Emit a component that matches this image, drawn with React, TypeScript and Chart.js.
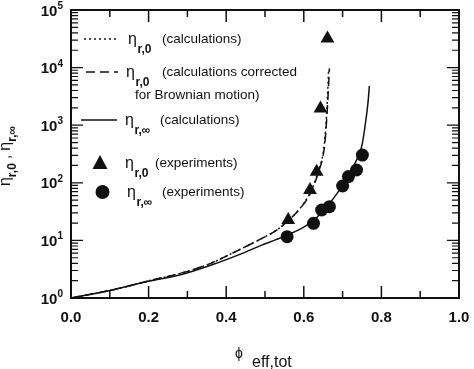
import React, { useEffect, useRef } from "react";
import { Chart, registerables } from "chart.js";

Chart.register(...registerables);

// ---------- data ----------
const xTickValues = [0, 0.2, 0.4, 0.6, 0.8, 1.0];
const xTickLabels = ["0.0", "0.2", "0.4", "0.6", "0.8", "1.0"];
const xMinorTickValues = [0.1, 0.3, 0.5, 0.7, 0.9];
const yDecadeValues = [1, 10, 100, 1000, 10000, 100000];
const yDecadeExponents = ["0", "1", "2", "3", "4", "5"];
const yMinorMultipliers = [2, 3, 4, 5, 6, 7, 8, 9];

// eta_r,inf (calculations) - solid
const calcInfX = [0, 0.1, 0.2, 0.28, 0.36, 0.44, 0.49, 0.53, 0.56, 0.6, 0.625, 0.65, 0.675, 0.7, 0.72, 0.74, 0.75, 0.76, 0.766, 0.769];
const calcInfY = [1, 1.35, 1.95, 2.5, 3.7, 5.9, 8.2, 10.4, 12.6, 17, 22, 33, 52, 90, 155, 285, 450, 1230, 2700, 4800];

// eta_r,0 (calculations corrected for Brownian motion) - dashed
const calcBrownX = [0, 0.1, 0.2, 0.3, 0.36, 0.436, 0.487, 0.53, 0.56, 0.58, 0.6, 0.62, 0.64, 0.65, 0.655, 0.661, 0.666];
const calcBrownY = [1, 1.35, 1.98, 2.9, 4.0, 7.0, 10.4, 15.1, 22, 30, 43, 72, 170, 300, 550, 2100, 9700];

// eta_r,0 (calculations) - dotted
const calc0X = [0, 0.1, 0.2, 0.3, 0.36, 0.436, 0.487, 0.53, 0.56, 0.58, 0.6, 0.62, 0.64, 0.65, 0.655, 0.66, 0.664];
const calc0Y = [1, 1.35, 1.98, 2.9, 4.0, 7.0, 10.4, 15.1, 22, 30, 44, 75, 180, 330, 650, 2200, 9500];

// eta_r,0 (experiments) - triangles
const exp0X = [0.56, 0.616, 0.633, 0.643, 0.661];
const exp0Y = [22.6, 75, 156, 1950, 32000];

// eta_r,inf (experiments) - circles
const expInfX = [0.557, 0.625, 0.646, 0.666, 0.7, 0.715, 0.736, 0.751];
const expInfY = [11.6, 19.8, 33.7, 38.5, 88, 128, 167, 303];

const toPts = (xs: number[], ys: number[]) => xs.map((x, i) => ({ x, y: ys[i] }));

const FONT = "'Liberation Sans', Arial, Helvetica, sans-serif";
const INK = "#111";

type Part = { t: string; font: string; dy: number };
function rich(ctx: CanvasRenderingContext2D, x: number, y: number, parts: Part[]) {
  let cx = x;
  for (const p of parts) {
    ctx.font = p.font;
    ctx.fillText(p.t, cx, y + p.dy);
    cx += ctx.measureText(p.t).width;
  }
  return cx;
}
function richWidth(ctx: CanvasRenderingContext2D, parts: Part[]) {
  let w = 0;
  for (const p of parts) {
    ctx.font = p.font;
    w += ctx.measureText(p.t).width;
  }
  return w;
}

const decorPlugin = {
  id: "decor",
  afterDraw(chart: any) {
    const ctx: CanvasRenderingContext2D = chart.ctx;
    const { left, right, top, bottom } = chart.chartArea;
    const xs = chart.scales.x;
    const ys = chart.scales.y;
    ctx.save();
    ctx.strokeStyle = INK;
    ctx.fillStyle = INK;
    ctx.setLineDash([]);

    // frame
    ctx.lineWidth = 2;
    ctx.strokeRect(left, top, right - left, bottom - top);

    // x ticks (bottom & top, inward)
    ctx.lineWidth = 1.5;
    const vt = (px: number, len: number) => {
      ctx.beginPath();
      ctx.moveTo(px, bottom);
      ctx.lineTo(px, bottom - len);
      ctx.moveTo(px, top);
      ctx.lineTo(px, top + len);
      ctx.stroke();
    };
    xTickValues.forEach((v) => vt(xs.getPixelForValue(v), 12));
    xMinorTickValues.forEach((v) => vt(xs.getPixelForValue(v), 7));

    // y ticks (left & right, inward)
    const ht = (py: number, len: number) => {
      ctx.beginPath();
      ctx.moveTo(left, py);
      ctx.lineTo(left + len, py);
      ctx.moveTo(right, py);
      ctx.lineTo(right - len, py);
      ctx.stroke();
    };
    ctx.lineWidth = 1.2;
    yDecadeValues.forEach((d, i) => {
      ht(ys.getPixelForValue(d), 12);
      if (i < yDecadeValues.length - 1) {
        yMinorMultipliers.forEach((m) => ht(ys.getPixelForValue(d * m), 7));
      }
    });

    // x tick labels
    ctx.font = `bold 15px ${FONT}`;
    ctx.textAlign = "center";
    ctx.textBaseline = "alphabetic";
    xTickValues.forEach((v, i) => {
      ctx.fillText(xTickLabels[i], xs.getPixelForValue(v), 322);
    });

    // y tick labels 10^n
    ctx.textAlign = "right";
    yDecadeValues.forEach((d, i) => {
      const py = ys.getPixelForValue(d);
      ctx.font = `bold 10px ${FONT}`;
      const sw = ctx.measureText(yDecadeExponents[i]).width;
      ctx.fillText(yDecadeExponents[i], 63, py - 1);
      ctx.font = `bold 15px ${FONT}`;
      ctx.fillText("10", 63 - sw, py + 5.5);
    });

    // x axis title
    ctx.textAlign = "left";
    ctx.font = `14px ${FONT}`;
    ctx.fillText("ϕ", 235, 358);
    ctx.font = `16px ${FONT}`;
    ctx.fillText("eff,tot", 252, 367);

    // y axis title (rotated)
    const etaF = `16px ${FONT}`;
    const subF = `bold 12px ${FONT}`;
    const yParts: Part[] = [
      { t: "η", font: etaF, dy: 0 },
      { t: "r,0", font: subF, dy: 6 },
      { t: " , ", font: `15px ${FONT}`, dy: 0 },
      { t: "η", font: etaF, dy: 0 },
      { t: "r,∞", font: subF, dy: 6 },
    ];
    ctx.save();
    ctx.translate(0, 156);
    ctx.rotate(-Math.PI / 2);
    const yw = richWidth(ctx, yParts);
    rich(ctx, -yw / 2, 10, yParts);
    ctx.restore();

    // legend
    const legendEntry = (cy: number, etaX: number, sub: string, textX: number, text: string) => {
      ctx.font = `16px ${FONT}`;
      ctx.fillText("η", etaX, cy + 5);
      ctx.font = `bold 12px ${FONT}`;
      ctx.fillText(sub, etaX + 9.5, cy + 14);
      ctx.font = `13.5px ${FONT}`;
      ctx.fillText(text, textX, cy + 4);
    };
    const legendLine = (cy: number, x0: number, x1: number, dash: number[]) => {
      ctx.save();
      ctx.lineWidth = 1.5;
      ctx.setLineDash(dash);
      ctx.beginPath();
      ctx.moveTo(x0, cy);
      ctx.lineTo(x1, cy);
      ctx.stroke();
      ctx.restore();
    };
    legendLine(39, 84, 118, [2, 3]);
    legendEntry(39, 128, "r,0", 162, "(calculations)");
    legendLine(72, 86, 118, [9, 5]);
    legendEntry(72, 126, "r,0", 162, "(calculations corrected");
    ctx.font = `13.5px ${FONT}`;
    ctx.fillText("for Brownian motion)", 135, 99);
    legendLine(120, 81, 117, []);
    legendEntry(120, 125, "r,∞", 160, "(calculations)");
    // triangle marker
    ctx.beginPath();
    ctx.moveTo(100, 155);
    ctx.lineTo(107.5, 169);
    ctx.lineTo(92.5, 169);
    ctx.closePath();
    ctx.fill();
    legendEntry(163, 125, "r,0", 155, "(experiments)");
    ctx.beginPath();
    ctx.arc(102.5, 192, 7, 0, Math.PI * 2);
    ctx.fill();
    legendEntry(192, 127, "r,∞", 162, "(experiments)");

    ctx.restore();
  },
};

export default function App() {
  const ref = useRef<HTMLCanvasElement | null>(null);
  useEffect(() => {
    document.body.style.margin = "0";
    const canvas = ref.current!;
    const lineBase = {
      type: "line" as const,
      showLine: true,
      pointRadius: 0,
      borderColor: INK,
      borderWidth: 1.5,
      fill: false,
      cubicInterpolationMode: "monotone" as const,
    };
    const chart = new Chart(canvas, {
      type: "line",
      data: {
        datasets: [
          { ...lineBase, label: "calc0", data: toPts(calc0X, calc0Y), borderDash: [2, 3] },
          { ...lineBase, label: "calcBrown", data: toPts(calcBrownX, calcBrownY), borderDash: [9, 5] },
          { ...lineBase, label: "calcInf", data: toPts(calcInfX, calcInfY) },
          {
            type: "scatter" as const,
            label: "exp0",
            data: toPts(exp0X, exp0Y),
            pointStyle: "triangle",
            pointRadius: 8,
            backgroundColor: INK,
            borderColor: INK,
            borderWidth: 0,
            showLine: false,
          },
          {
            type: "scatter" as const,
            label: "expInf",
            data: toPts(expInfX, expInfY),
            pointStyle: "circle",
            pointRadius: 6.5,
            backgroundColor: INK,
            borderColor: INK,
            borderWidth: 0,
            showLine: false,
          },
        ] as any,
      },
      options: {
        animation: false,
        responsive: false,
        devicePixelRatio: 1,
        layout: { padding: { left: 71, right: 15, top: 10, bottom: 71 } },
        plugins: { legend: { display: false }, tooltip: { enabled: false } },
        events: [],
        scales: {
          x: { type: "linear", min: 0, max: 1, display: false },
          y: { type: "logarithmic", min: 1, max: 100000, display: false },
        },
      },
      plugins: [decorPlugin],
    });
    return () => chart.destroy();
  }, []);
  return (
    <div style={{ width: 474, height: 369, background: "#fff" }}>
      <canvas ref={ref} width={474} height={369} style={{ display: "block" }} />
    </div>
  );
}
